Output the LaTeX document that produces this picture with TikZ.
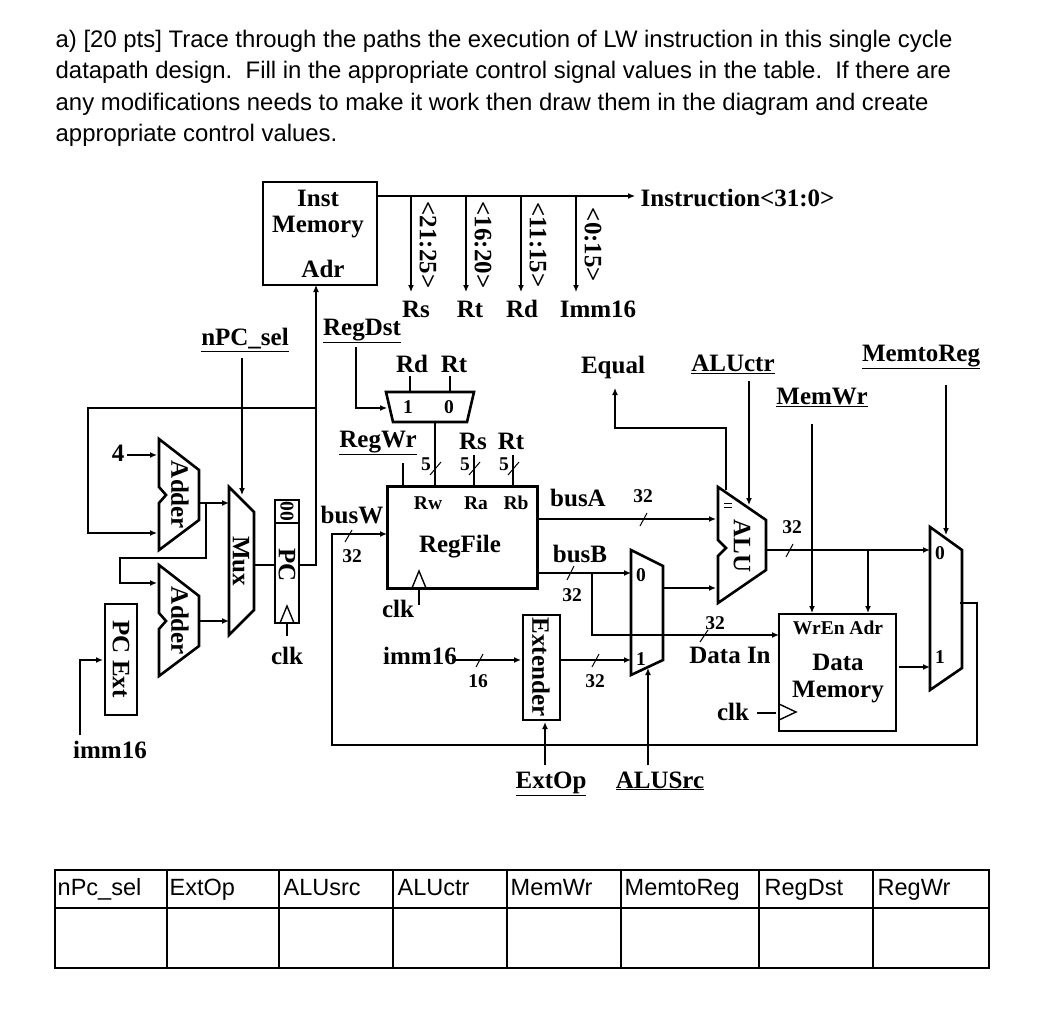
\documentclass[tikz,border=0pt]{standalone}
\usepackage{fontspec}
\setmainfont{Liberation Serif}
\newfontfamily\hv{Liberation Sans}
\usetikzlibrary{arrows.meta}
\begin{document}
\begin{tikzpicture}[x=1pt,y=-1pt,line width=1.4pt,
 ar/.style={-{Latex[length=7pt,width=6pt]}},
 lb/.style={font=\fontsize{25}{27}\selectfont\bfseries,inner sep=0pt},
 sm/.style={font=\fontsize{19.5}{21}\selectfont\bfseries,inner sep=0pt},
 hd/.style={font=\hv\fontsize{23.9}{26}\selectfont,anchor=west,inner sep=0pt},
 tb/.style={font=\hv\fontsize{23.5}{25}\selectfont,anchor=base west,inner sep=0pt},
 blk/.style={line width=2.6pt},
 sl/.style={line width=1pt}]
\useasboundingbox (0,0) rectangle (1038,1014);
% header
\node[hd] (h1) at (55,41) {a) [20 pts] Trace through the paths the execution of LW instruction in this single cycle};
\node[hd] (h2) at (55,72) {datapath design.\ \ Fill in the appropriate control signal values in the table.\ \ If there are};
\node[hd] (h3) at (55,104) {any modifications needs to make it work then draw them in the diagram and create};
\node[hd] (h4) at (55,135) {appropriate control values.};
% Inst memory
\draw (263,182) rectangle (377,285);
\node[lb] (im1) at (318,198) {Inst};
\node[lb] (im2) at (318,227) {Memory};
\node[lb] (im3) at (323,269) {Adr};
\coordinate (ibs) at (377,196);
\coordinate (ibe) at (635,196);
\draw[ar,line width=1.2pt] (ibs) -- (ibe);
\node[lb,anchor=west] (instr) at (640,198) {Instruction<31:0>};
\foreach \x/\t in {411/21:25,466/16:20,521/11:15,576/0:15}{
 \draw[ar,line width=1.2pt] (\x,196) -- (\x,292);
 \node[lb,rotate=-90] at (\x+17,245) {<\t>};
}
\node[lb] (rs0) at (416,309) {Rs};
\node[lb] (rt0) at (470,309) {Rt};
\node[lb] (rd0) at (522,309) {Rd};
\node[lb] (imm0) at (598,309) {Imm16};
% PC feedback lines
\draw[ar,line width=1.2pt] (299,565) -- (316,565) -- (316,285);
\draw[ar,line width=1.2pt] (316,408) -- (88,408) -- (88,533) -- (157,533);
% adders
\draw[blk] (159,439) -- (199,470) -- (199,520) -- (159,550) -- (159,503) -- (166,495) -- (159,487) -- cycle;
\node[lb,rotate=-90] (ad1) at (180,495) {Adder};
\draw[blk] (159,565) -- (199,596) -- (199,646) -- (159,676) -- (159,629) -- (166,621) -- (159,613) -- cycle;
\node[lb,rotate=-90] (ad2) at (180,621) {Adder};
\node[lb] (four) at (118,453) {4};
\draw[ar] (127,455) -- (157,455);
\draw[ar] (199,503) -- (229,503);
\draw[ar] (206,503) -- (206,558) -- (120,558) -- (120,583) -- (157,583);
\draw[ar] (199,621) -- (229,621);
% PC Ext
\draw[blk] (105,604) rectangle (137,715);
\node[lb,rotate=-90] (pcext) at (121,659) {PC Ext};
\draw[ar] (80,735) -- (80,660) -- (103,660);
\node[lb] (immL) at (110,750) {imm16};
% Mux
\draw[blk] (229,487) -- (254,512) -- (254,610) -- (229,635) -- cycle;
\node[lb,rotate=-90] (mux) at (241,561) {Mux};
\node[lb] (npc) at (245,340) {\underline{nPC\_sel}};
\draw[ar,line width=1.2pt] (242,358) -- (242,495);
\draw (254,565) -- (275,565);
% PC
\draw[blk] (275,500) rectangle (299,623);
\draw (275,523) -- (299,523);
\node[sm,rotate=-90] at (287,511) {00};
\node[lb,rotate=-90] (pc) at (287,565) {PC};
\draw (280,623) -- (287,606) -- (294,623);
\draw (287,623) -- (287,636);
\node[lb] (clk1) at (287,656) {clk};
% RegDst mux
\node[lb] (rdst) at (362,331) {\underline{RegDst}};
\draw[ar,line width=1.2pt] (356,347) -- (356,408) -- (387,408);
\draw[blk] (386,392) -- (474,392) -- (467,422) -- (393,422) -- cycle;
\node[sm] at (408,407) {1};
\node[sm] at (449,407) {0};
\node[lb] (rd1) at (412,364) {Rd};
\node[lb] (rt1) at (454,364) {Rt};
\draw[line width=1.2pt] (410,376) -- (410,392);
\draw[line width=1.2pt] (450,376) -- (450,392);
\draw[line width=1.2pt] (435,422) -- (435,486);
\node[lb] (rwr) at (378,443) {\underline{RegWr}};
\draw[line width=1.2pt] (403,463) -- (403,486);
\node[lb] (rs1) at (473,441) {Rs};
\node[lb] (rt2) at (511,441) {Rt};
\draw[line width=1.2pt] (474,455) -- (474,486);
\draw[line width=1.2pt] (513,455) -- (513,486);
\foreach \x in {435,474,513}{
 \draw[sl] (\x-5,475) -- (\x+6,462);
 \node[sm] at (\x-9,464) {5};
}
% RegFile
\draw[line width=3pt] (387,486) rectangle (537,588);
\node[sm,anchor=base] at (428,509) {Rw};
\node[sm,anchor=base] at (476,509) {Ra};
\node[sm,anchor=base] at (516,509) {Rb};
\node[lb] (rf) at (460,547) {RegFile};
\draw (412,588) -- (419,571) -- (426,588);
\draw (419,588) -- (419,605);
\node[lb] (clk2) at (398,609) {clk};
% busW
\draw[ar] (960,603) -- (977,603) -- (977,745) -- (332,745) -- (332,534) -- (387,534);
\node[lb] (busw) at (352,515) {busW};
\draw[sl] (345,542) -- (352,530);
\node[sm] at (352,556) {32};
% busA
\draw[ar] (537,519) -- (716,519);
\node[lb] (busa) at (578,498) {busA};
\node[sm] at (643,496) {32};
\draw[sl] (640,526) -- (647,513);
% busB
\draw[ar] (537,573) -- (631,573);
\node[lb] (busb) at (580,554) {busB};
\draw[sl] (567,580) -- (574,566);
\node[sm] at (572,595) {32};
\draw[ar] (592,573) -- (592,635) -- (779,635);
\node[sm] at (715,623) {32};
\draw[sl] (700,642) -- (708,630);
\node[lb] (din) at (730,655) {Data In};
% ALUSrc mux
\draw[blk] (631,550) -- (663,566) -- (663,660) -- (631,675) -- cycle;
\node[sm] at (641,575) {0};
\node[sm] at (641,659) {1};
\draw[ar] (663,588) -- (716,588);
% imm16 extender
\node[lb] (imm2) at (420,656) {imm16};
\draw[ar] (452,660) -- (521,660);
\draw[sl] (476,667) -- (483,654);
\node[sm] at (478,681) {16};
\draw[blk] (523,615) rectangle (560,720);
\node[lb,rotate=-90] (ext) at (541,667) {Extender};
\draw[ar] (560,660) -- (631,660);
\draw[sl] (592,667) -- (599,654);
\node[sm] at (595,681) {32};
\draw[ar] (545,765) -- (545,722);
\node[lb,anchor=base] (extop) at (551,788) {\underline{ExtOp}};
\draw[ar] (648,765) -- (648,668);
\node[lb,anchor=base] (alusrc) at (660,788) {\underline{ALUSrc}};
% Equal
\node[lb] (eq) at (613,367) {Equal};
\draw[ar,line width=1.2pt] (726,490) -- (726,428) -- (615,428) -- (615,388);
% ALU
\draw[blk] (718,487) -- (766,520) -- (766,570) -- (718,603) -- (718,556) -- (726,548) -- (718,540) -- cycle;
\draw[line width=0.8pt] (724,503) -- (732,503);
\draw[line width=0.8pt] (724,507) -- (732,507);
\node[lb,rotate=-90] (alu) at (742,546) {ALU};
\node[lb] (aluctr) at (733,364) {\underline{ALUctr}};
\draw[ar,line width=1.2pt] (749,381) -- (749,505);
% ALU output
\draw[ar] (766,550) -- (930,550);
\draw[sl] (786,557) -- (793,544);
\node[sm] at (792,527) {32};
\draw[ar] (868,550) -- (868,613);
% MemWr
\node[lb] (memwr) at (822,397) {\underline{MemWr}};
\draw[ar,line width=1.2pt] (812,424) -- (812,613);
% MemtoReg
\node[lb] (m2r) at (921,357) {\underline{MemtoReg}};
\draw[ar,line width=1.2pt] (946,385) -- (946,535);
% mux3
\draw[blk] (930,527) -- (962,550) -- (962,668) -- (930,690) -- cycle;
\node[sm] at (940,553) {0};
\node[sm] at (940,657) {1};
% Data memory
\draw (779,614) rectangle (896,731);
\node[sm] (wren) at (838,628) {WrEn Adr};
\node[lb,align=center] (dm) at (838,679) {Data\\Memory};
\draw (779,704) -- (796,712) -- (779,720);
\draw (757,713) -- (776,713);
\node[lb] (clk3) at (733,712) {clk};
\draw[ar] (899,667) -- (930,667);
% table
\draw[line width=1.2pt] (55,870) rectangle (989,968);
\draw[line width=1.2pt] (55,908) -- (989,908);
\foreach \x in {167,279,393,507,621,759,873}{\draw[line width=1.2pt] (\x,870) -- (\x,968);}
\foreach \x/\t in {57/nPc\_sel,169/ExtOp,283/ALUsrc,397/ALUctr,510/MemWr,624/MemtoReg,764/RegDst,877/RegWr}{
 \node[tb] at (\x,895) {\t};
}
\end{tikzpicture}
\end{document}
